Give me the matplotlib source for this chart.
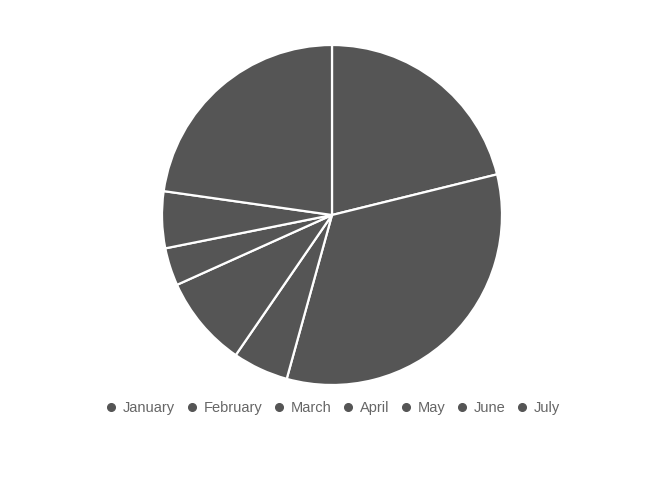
import matplotlib
matplotlib.use("Agg")
import matplotlib.pyplot as plt
from matplotlib.lines import Line2D

months = ["January", "February", "March", "April", "May", "June", "July"]
values = [21.2, 33.2, 5.3, 8.7, 3.6, 5.4, 22.8]

plt.rcParams["font.family"] = ["Liberation Sans", "DejaVu Sans"]

fig = plt.figure(figsize=(6.72, 4.87), dpi=100)
W, H = 672, 487
cx, cy, r = 332, 215, 170
ax = fig.add_axes([(cx - r) / W, (H - cy - r) / H, 2 * r / W, 2 * r / H])
ax.pie(values, startangle=90, counterclock=False, colors=["#555555"] * len(values),
       wedgeprops=dict(edgecolor="white", linewidth=1.6))
ax.set_xlim(-1.0, 1.0)
ax.set_ylim(-1.0, 1.0)
ax.set_aspect("equal")
ax.axis("off")

handles = [Line2D([], [], marker="o", linestyle="none", markersize=5.5,
                  markerfacecolor="#555555", markeredgecolor="#555555") for _ in months]
fig.legend(handles, months, loc="center", bbox_to_anchor=(332 / W, 1 - 408 / H),
           ncol=len(months), frameon=False, fontsize=10.5, labelcolor="#666666",
           handletextpad=0.3, columnspacing=0.65, handlelength=1.0)

fig.savefig("out.png", dpi=100, facecolor="white")
